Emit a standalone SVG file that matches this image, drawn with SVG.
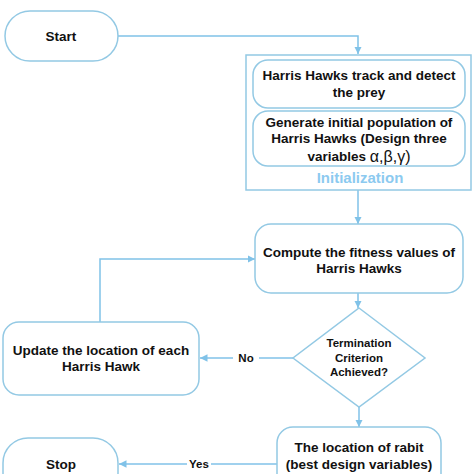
<svg xmlns="http://www.w3.org/2000/svg" width="474" height="474" viewBox="0 0 474 474">
<style>
.box{fill:#fff;stroke:#93c9e4;stroke-width:1.5}
.con{fill:none;stroke:#80c2e8;stroke-width:1.5}
.t{font-family:"Liberation Sans",Arial,sans-serif;font-weight:bold;font-size:13.5px;fill:#111;text-anchor:middle;dominant-baseline:central}
.s{font-size:11.5px}
.lbl{font-family:"Liberation Sans",Arial,sans-serif;font-weight:bold;font-size:11.5px;fill:#111;text-anchor:middle;dominant-baseline:central}
</style>
<defs>
<marker id="ah" viewBox="0 0 10 10" refX="10" refY="5" markerWidth="5" markerHeight="5" orient="auto">
<path d="M0,0 L10,5 L0,10 z" fill="#80c2e8"/>
</marker>
</defs>
<rect width="474" height="474" fill="#fff"/>
<g id="connectors">
<path class="con" d="M118,36 H358 V54" marker-end="url(#ah)"/>
<path class="con" d="M358,190 V224" marker-end="url(#ah)"/>
<path class="con" d="M358,293 V308" marker-end="url(#ah)"/>
<path class="con" d="M293,358 H259"/>
<path class="con" d="M233,358 H200" marker-end="url(#ah)"/>
<path class="con" d="M100,322 V259 H255" marker-end="url(#ah)"/>
<path class="con" d="M359,407 V427" marker-end="url(#ah)"/>
<path class="con" d="M277,464 H211"/>
<path class="con" d="M187,464 H119" marker-end="url(#ah)"/>
<text class="lbl" x="246" y="358">No</text>
<text class="lbl" x="199" y="464">Yes</text>
</g>
<g id="start">
<rect class="box" x="5" y="11" width="113" height="50" rx="25"/>
<text class="t" x="61" y="36">Start</text>
</g>
<g id="initialization">
<rect x="246" y="55" width="225" height="135" fill="#fff" stroke="#93c9e4" stroke-width="1.5"/>
<text class="t" x="360" y="177" style="fill:#8ccaf0;font-size:15px">Initialization</text>
</g>
<g id="track">
<rect class="box" x="253" y="60" width="212" height="48" rx="15"/>
<text class="t" x="359" y="75">Harris Hawks track and detect</text>
<text class="t" x="359" y="92">the prey</text>
</g>
<g id="generate">
<rect class="box" x="253" y="111" width="212" height="55" rx="15"/>
<text class="t" x="359" y="122">Generate initial population of</text>
<text class="t" x="359" y="138">Harris Hawks (Design three</text>
<text class="t" x="359" y="156">variables  <tspan font-weight="normal" font-size="16">α,β,γ)</tspan></text>
</g>
<g id="compute">
<rect class="box" x="255" y="224" width="208" height="69" rx="16"/>
<text class="t" x="359" y="252">Compute the fitness values of</text>
<text class="t" x="359" y="268">Harris Hawks</text>
</g>
<g id="termination">
<polygon class="box" points="359,308 425,358 359,407 293,358"/>
<text class="t s" x="359" y="343">Termination</text>
<text class="t s" x="359" y="358">Criterion</text>
<text class="t s" x="359" y="372">Achieved?</text>
</g>
<g id="update">
<rect class="box" x="3" y="322" width="196" height="73" rx="16"/>
<text class="t" x="101" y="350">Update the location of each</text>
<text class="t" x="101" y="366">Harris Hawk</text>
</g>
<g id="rabit">
<rect class="box" x="277" y="427" width="164" height="70" rx="16"/>
<text class="t" x="359" y="447">The location of rabit</text>
<text class="t" x="359" y="464">(best design variables)</text>
</g>
<g id="stop">
<rect class="box" x="3" y="438" width="115" height="60" rx="25"/>
<text class="t" x="61" y="464">Stop</text>
</g>
</svg>
